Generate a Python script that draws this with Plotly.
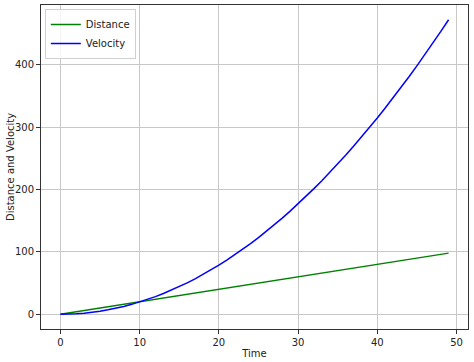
import plotly.graph_objects as go

time = list(range(50))
distance = [0, 2, 4, 6, 8, 10, 12, 14, 16, 18, 20, 22, 24, 26, 28, 30, 32, 34, 36, 38,
            40, 42, 44, 46, 48, 50, 52, 54, 56, 58, 60, 62, 64, 66, 68, 70, 72, 74, 76, 78,
            80, 82, 84, 86, 88, 90, 92, 94, 96, 98]
velocity = [0, 0.2, 0.8, 1.8, 3.1, 4.9, 7.1, 9.6, 12.6, 15.9,
            19.7, 23.8, 28.3, 33.2, 38.5, 44.2, 50.3, 56.8, 63.7, 71.0,
            78.6, 86.7, 95.2, 104.0, 113.2, 122.9, 132.9, 143.3, 154.1, 165.3,
            176.9, 188.9, 201.3, 214.1, 227.3, 240.8, 254.8, 269.1, 283.9, 299.0,
            314.6, 330.5, 346.8, 363.5, 380.6, 398.1, 416.0, 434.3, 453.0, 472.0]
x_ticks = [0, 10, 20, 30, 40, 50]
y_ticks = [0, 100, 200, 300, 400]

font = dict(family="DejaVu Sans", size=10, color="#222")

fig = go.Figure()
fig.add_trace(go.Scatter(x=time, y=distance, mode="lines", name="Distance",
                         line=dict(color="#008000", width=1.5)))
fig.add_trace(go.Scatter(x=time, y=velocity, mode="lines", name="Velocity",
                         line=dict(color="#0000ff", width=1.5)))

axis_common = dict(showline=True, mirror=True, linecolor="#333", linewidth=1,
                   showgrid=True, gridcolor="#c8c8c8", gridwidth=1,
                   ticks="outside", ticklen=4, tickcolor="#333", zeroline=False,
                   tickfont=font, automargin=False)

fig.update_layout(
    width=474, height=362,
    margin=dict(l=41, r=6, t=5, b=33),
    paper_bgcolor="white", plot_bgcolor="white",
    font=font,
    showlegend=True,
    legend=dict(x=0.009, y=0.988, xanchor="left", yanchor="top",
                bgcolor="rgba(255,255,255,0.8)", bordercolor="#d0d0d0", borderwidth=1,
                font=dict(family="DejaVu Sans", size=10, color="#222"),
                tracegroupgap=0, itemwidth=30),
    xaxis=dict(range=[-2.45, 51.45], tickvals=x_ticks,
               title=dict(text="Time", font=font, standoff=2), **axis_common),
    yaxis=dict(range=[-23.6, 495.6], tickvals=y_ticks, **axis_common),
    annotations=[dict(text="Distance and Velocity", xref="paper", yref="paper",
                      x=-0.0726, y=0.5, xanchor="center", yanchor="middle",
                      textangle=-90, showarrow=False, font=font)],
)

fig.write_html("out.html")
